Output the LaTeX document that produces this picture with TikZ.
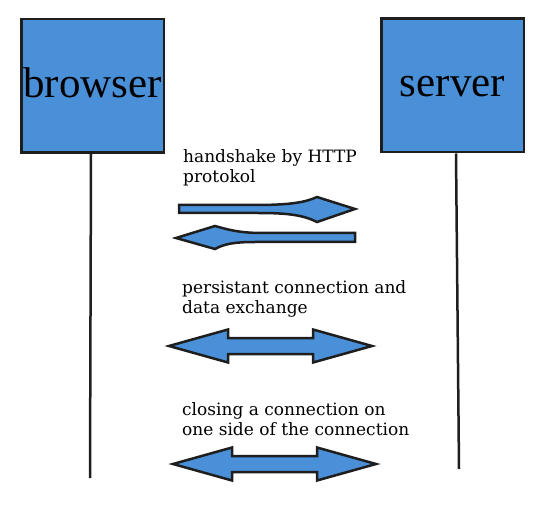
\documentclass[tikz,border=0pt]{standalone}
\usepackage{fontspec}
\setmainfont{Liberation Serif}
\newfontfamily\labelfont{DejaVu Serif}
\definecolor{boxblue}{RGB}{74,144,217}
\definecolor{inkline}{RGB}{30,30,30}
\tikzset{
  box/.style={shape=rectangle, draw=inkline, fill=boxblue, line width=2.5pt,
    minimum width=142.5pt, minimum height=133.5pt, inner sep=0pt,
    font=\fontsize{43}{43}\selectfont, text height=29.4pt, text depth=7pt},
  lifeline/.style={draw=inkline, line width=2.5pt},
  fatarrow/.style={draw=inkline, fill=boxblue, line width=2.5pt, line join=miter},
  note/.style={anchor=base west, align=left, inner sep=0pt,
    font=\labelfont\fontsize{17}{20}\selectfont}
}
\begin{document}
\begin{tikzpicture}[x=1pt, y=-1pt]
  \useasboundingbox (0,0) rectangle (559,518);
  \node[box] (browser) at (92.5,86)  {browser};
  \node[box] (server)  at (452.5,85.5) {server};

  \coordinate (browser end) at (90,478);
  \coordinate (server end)  at (459,469);
  \draw[lifeline] ([xshift=-1.5pt]browser.south) -- (browser end);
  \draw[lifeline] ([xshift=3.5pt]server.south) -- (server end);

  % handshake
  \node[note] (handshake) at (183,183) {handshake by HTTP\\protokol};
  \draw[fatarrow] (179,205) -- (255,205) .. controls (292,205) and (306,202) .. (317,197)
    -- (355,209) -- (317,222) .. controls (303,215) and (288,213) .. (258,213) -- (179,213) -- cycle;
  \draw[fatarrow] (355,233) -- (262,233) .. controls (238,233) and (226,229) .. (215,226)
    -- (176,238) -- (215,249) .. controls (224,244) and (234,242) .. (255,242) -- (355,242) -- cycle;

  % persistant connection, closing
  \node[note] (exchange) at (182,313) {persistant connection and\\data exchange};
  \node[note] (closing)  at (182,435) {closing a connection on\\one side of the connection};
  \foreach \x/\y in {169/346, 173/464}
    \draw[fatarrow] (\x,\y) -- ++(59,-16.5) -- ++(0,8.5) -- ++(85,0) -- ++(0,-8.5)
      -- ++(59,16.5) -- ++(-59,16.5) -- ++(0,-8.5) -- ++(-85,0) -- ++(0,8.5) -- cycle;
\end{tikzpicture}
\end{document}
